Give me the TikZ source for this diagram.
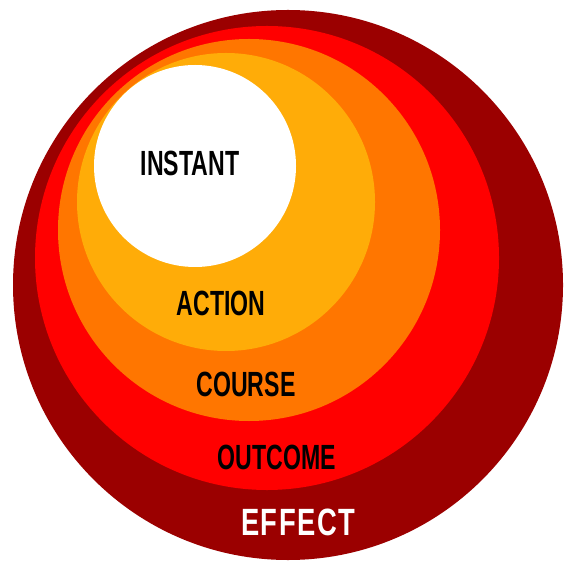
\documentclass[tikz,border=0pt]{standalone}
\usepackage{fontspec}
\newfontfamily\lblfont[FakeStretch=0.66]{Liberation Sans}
\newfontfamily\widefont[FakeStretch=0.72,LetterSpace=4]{Liberation Sans}

\definecolor{effectred}{RGB}{155,0,0}
\definecolor{outcomered}{RGB}{255,0,0}
\definecolor{courseorange}{RGB}{255,118,0}
\definecolor{actionyellow}{RGB}{255,172,8}

\tikzset{
  ring/.style={circle,inner sep=0pt,draw=none},
  lbl/.style={font=\lblfont\bfseries\fontsize{17.5}{18}\selectfont,inner sep=0pt},
  widelbl/.style={font=\widefont\bfseries\fontsize{19}{20}\selectfont,inner sep=0pt},
}

\begin{document}
\begin{tikzpicture}[x=0.5pt,y=-0.5pt]

\useasboundingbox[fill=white] (0,0) rectangle (576,576);

\node[ring,fill=effectred,minimum size=275pt](effect) at (288,285) {};
\node[ring,fill=outcomered,minimum size=232pt](outcome) at (267,258) {};
\node[ring,fill=courseorange,minimum size=191pt](course) at (249,230) {};
\node[ring,fill=actionyellow,minimum size=149pt](action) at (226,202) {};
\node[ring,fill=white,minimum size=101pt](instant) at (195,166) {};

\node[lbl](instanttxt) at (190,163) {INSTANT};
\node[lbl](actiontxt) at (221,303) {ACTION};
\node[lbl](coursetxt) at (246,384) {COURSE};
\node[lbl](outcometxt) at (277,457) {OUTCOME};
\node[widelbl,text=white](effecttxt) at (298,522) {EFFECT};

\end{tikzpicture}
\end{document}
